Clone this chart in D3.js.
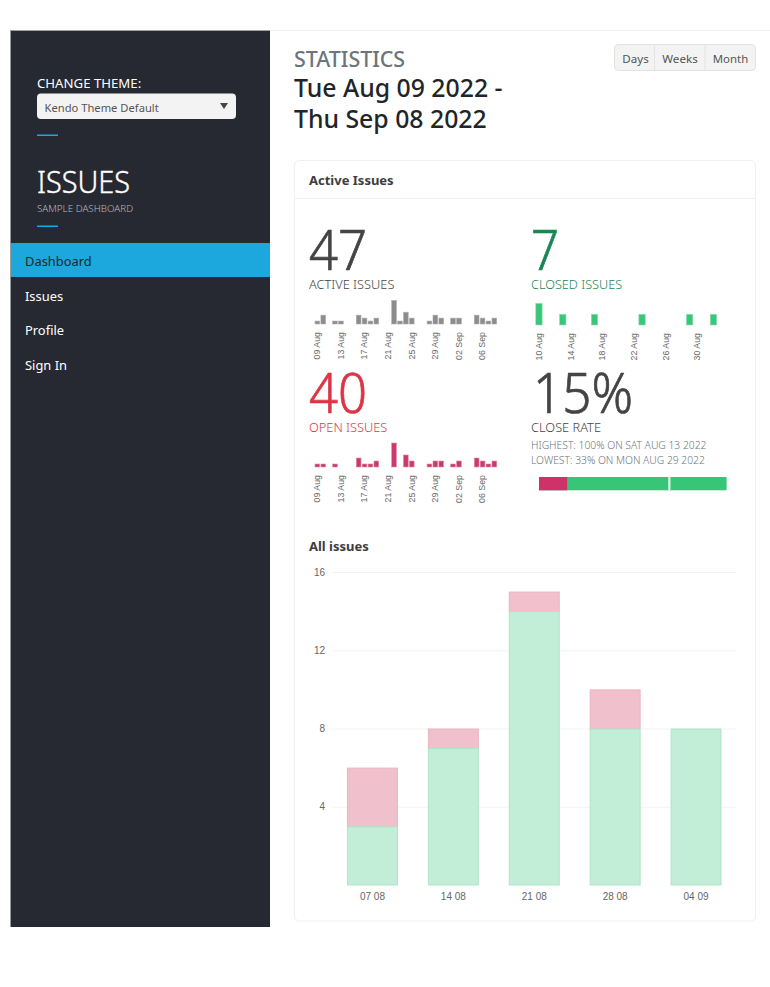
<!DOCTYPE html>
<html><head><meta charset="utf-8">
<script src="https://cdnjs.cloudflare.com/ajax/libs/d3/7.8.5/d3.min.js"></script>
<style>
html,body{margin:0;padding:0;background:#fff}
svg{display:block}
text{font-family:"Noto Sans","Open Sans",sans-serif}
.axis text{font-family:"Liberation Sans",Arial,sans-serif;fill:#666}
.axis path,.axis line{display:none}
</style></head><body>
<svg id="c" width="770" height="987"></svg>
<script>
const activeDates = ["09 Aug","10 Aug","11 Aug","12 Aug","13 Aug","14 Aug","15 Aug","16 Aug","17 Aug","18 Aug","19 Aug","20 Aug","21 Aug","22 Aug","23 Aug","24 Aug","25 Aug","26 Aug","27 Aug","28 Aug","29 Aug","30 Aug","31 Aug","01 Sep","02 Sep","03 Sep","04 Sep","05 Sep","06 Sep","07 Sep","08 Sep"];
const activeValues = [1,3,0,1,1,0,0,3,2,1,2,0,0,8,1,4,2,0,0,1,3,2,0,2,2,0,0,3,2,1,2];
const openValues   = [1,1,0,1,0,0,0,3,1,1,2,0,0,8,0,4,2,0,0,1,2,2,0,1,2,0,0,3,2,1,2];
const closedDates  = activeDates.slice(1,24);
const closedValues = [2,0,0,1,0,0,0,1,0,0,0,0,0,1,0,0,0,0,0,1,0,0,1];
const activeTicks  = ["09 Aug","13 Aug","17 Aug","21 Aug","25 Aug","29 Aug","02 Sep","06 Sep"];
const closedTicks  = ["10 Aug","14 Aug","18 Aug","22 Aug","26 Aug","30 Aug"];
const weeks        = ["07 08","14 08","21 08","28 08","04 09"];
const weekGreen    = [3,7,14,8,8];
const weekPink     = [3,1,1,2,0];
const yTicks       = [4,8,12,16];
const closeRate    = 15;
const closeTarget  = 69.5;
const navItems     = ["Dashboard","Issues","Profile","Sign In"];
const periodLabels = ["Days","Weeks","Month"];

const svg = d3.select("#c");
function T(x,y,s,size,fill,opt={}){
  const t = svg.append("text").attr("x",x).attr("y",y).text(s)
    .attr("font-size",size).attr("fill",fill)
    .attr("font-weight",opt.w||400).attr("text-anchor",opt.a||"start");
  if(opt.len) t.attr("textLength",opt.len).attr("lengthAdjust","spacingAndGlyphs");
  if(opt.bold) t.attr("stroke",fill).attr("stroke-width",opt.bold);
  return t;
}
function R(x,y,w,h,fill,opt={}){
  return svg.append("rect").attr("x",x).attr("y",y).attr("width",w).attr("height",h)
    .attr("fill",fill).attr("rx",opt.r||0).attr("stroke",opt.s||"none").attr("stroke-width",opt.sw||1);
}
// page frame
R(270,30,500,1,"#f2f2f2");
R(10,30,1,897,"#9a9a9a");
R(11,30,259,897,"#262932");
R(11,30,259,1,"#a0a0a0");
// sidebar
T(37,88,"CHANGE THEME:",13.2,"#fff");
R(37,93.5,199,25.5,"#f3f3f3",{r:4});
T(44.5,111.5,"Kendo Theme Default",11.2,"#555");
svg.append("path").attr("d",d3.line()([[220,103],[228,103],[224,109]])+"Z").attr("fill","#444");
R(37,134.5,21,1.5,"#1ca8dd");
T(37,193,"ISSUES",31,"#fff",{w:300,len:93,bold:.4});
T(37,211.5,"SAMPLE DASHBOARD",9.8,"#b8bac0",{w:300});
R(37,225.5,21,1.5,"#1ca8dd");
R(11,243,259,34,"#1ca8dd");
const navY = d3.scalePoint().domain(navItems).range([266,370]);
navItems.forEach((n,i)=>T(25,navY(n),n,12.9,i? "#fff":"#20262e"));
// header
T(294,67,"STATISTICS",21.4,"#6c757d",{w:500});
T(294,96.5,"Tue Aug 09 2022 -",24.8,"#212529",{w:500});
T(294,127.5,"Thu Sep 08 2022",24.8,"#212529",{w:500});
R(614.5,44.5,141,26,"#f3f3f3",{r:4,s:"#e2e2e2"});
R(654,45,1,25,"#e4e4e4"); R(704.5,45,1,25,"#e4e4e4");
T(635.5,63,periodLabels[0],11.6,"#555",{a:"middle"});
T(680,63,periodLabels[1],11.6,"#555",{a:"middle"});
T(730.5,63,periodLabels[2],11.4,"#555",{a:"middle"});
// card
R(294.5,160.5,461,760.5,"#fff",{r:5,s:"#efefef"});
R(295,198,460,1,"#efefef");
T(309,185,"Active Issues",13,"#3d3d3d",{w:700});
// KPI
T(309,270,"47",55,"#444",{w:300,len:58,bold:.7});
T(309,289,"ACTIVE ISSUES",12.8,"#444",{w:300});
T(531,270,"7",55,"#198754",{w:300,len:28,bold:.7});
T(531,289,"CLOSED ISSUES",12.7,"#198754",{w:300});
T(309,413,"40",55,"#dc3545",{w:300,len:58,bold:.7});
T(309,432,"OPEN ISSUES",12.8,"#dc3545",{w:300});
T(533,413,"15%",55,"#444",{w:300,len:100,bold:.7});
T(531,432,"CLOSE RATE",12.8,"#444",{w:300});
T(531,449,"HIGHEST: 100% ON SAT AUG 13 2022",10.3,"#6c757d",{w:300});
T(531,464,"LOWEST: 33% ON MON AUG 29 2022",10.3,"#6c757d",{w:300});
// sparklines
function spark(dates,vals,ticks,x0,x1,base,top,maxV,fill,stroke){
  const x = d3.scaleBand().domain(dates).range([x0,x1]).paddingInner(.2).paddingOuter(.1);
  const y = d3.scaleLinear().domain([0,maxV]).range([base,top]);
  svg.append("g").selectAll("rect").data(vals.map((v,i)=>({d:dates[i],v})).filter(e=>e.v>0)).join("rect")
    .attr("x",e=>x(e.d)).attr("width",x.bandwidth()).attr("y",e=>y(e.v)).attr("height",e=>y(0)-y(e.v))
    .attr("fill",fill).attr("stroke",stroke).attr("stroke-width",.6);
  const ax = svg.append("g").attr("class","axis").attr("transform",`translate(0,${base})`)
    .call(d3.axisBottom(x).tickValues(ticks).tickSize(0));
  ax.selectAll("text").attr("font-size",8.8).attr("text-anchor","end")
    .attr("transform","rotate(-90)").attr("x",-8).attr("y",0).attr("dy",".32em");
}
spark(activeDates,activeValues,activeTicks,314.4,497.3,324,300.4,8,"#8c8c8c","#b0b0b0");
spark(closedDates,closedValues,closedTicks,535,717.4,325,303.5,2,"#38c679","#8fdcb2");
spark(activeDates,openValues,activeTicks,314.4,497.3,467,443,8,"#cb3a6e","#e08aa8");
// bullet
const bx = d3.scaleLinear().domain([0,100]).range([539,726.6]);
R(bx(0),477,bx(100)-bx(0),13.3,"#37c678");
R(bx(0),477,bx(closeRate)-bx(0),13.3,"#cf3268");
R(bx(closeTarget)-1,477,2,13.3,"#fff");
// main chart
T(309,551,"All issues",13,"#3d3d3d",{w:700});
const xM = d3.scaleBand().domain(weeks).range([332,736.5]).paddingInner(.37).paddingOuter(.185);
const yM = d3.scaleLinear().domain([0,16]).range([885,572]);
svg.append("g").selectAll("line").data(yTicks).join("line")
  .attr("x1",332).attr("x2",736).attr("y1",d=>yM(d)+.5).attr("y2",d=>yM(d)+.5).attr("stroke","#f3f3f3");
const axY = svg.append("g").attr("class","axis").attr("transform","translate(325,0)")
  .call(d3.axisLeft(yM).tickValues(yTicks).tickSize(0).tickPadding(0));
axY.selectAll("text").attr("font-size",10);
const axX = svg.append("g").attr("class","axis").attr("transform","translate(0,885)")
  .call(d3.axisBottom(xM).tickSize(0).tickPadding(8));
axX.selectAll("text").attr("font-size",10);
const rows = weeks.map((w,i)=>({w,g:weekGreen[i],p:weekPink[i]}));
svg.append("g").selectAll("rect").data(rows.filter(r=>r.p>0)).join("rect")
  .attr("x",r=>xM(r.w)+.5).attr("width",xM.bandwidth()-1)
  .attr("y",r=>yM(r.g+r.p)+.5).attr("height",r=>yM(r.g)-yM(r.g+r.p))
  .attr("fill","#f0c1cd").attr("stroke","#edb3c1");
svg.append("g").selectAll("rect").data(rows).join("rect")
  .attr("x",r=>xM(r.w)+.5).attr("width",xM.bandwidth()-1)
  .attr("y",r=>yM(r.g)+.5).attr("height",r=>yM(0)-yM(r.g)-.5)
  .attr("fill","#c2edd6").attr("stroke","#b0e4c8");
</script></body></html>
